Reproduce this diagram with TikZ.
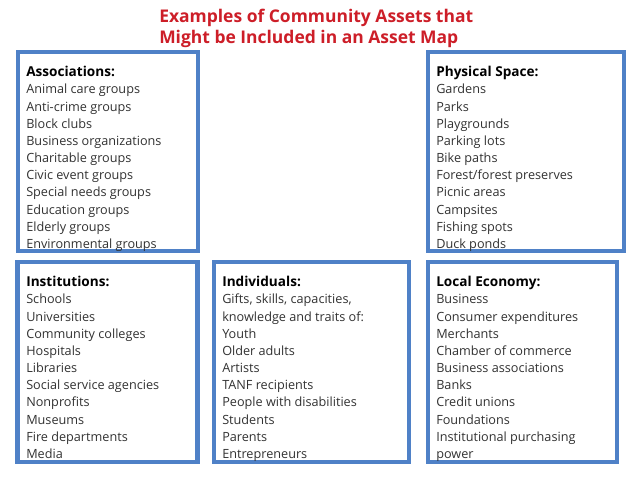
\documentclass[tikz,border=0pt]{standalone}
\usepackage{fontspec}
\setmainfont{Open Sans}
\definecolor{boxblue}{RGB}{79,129,199}
\definecolor{titlered}{RGB}{205,30,40}
\definecolor{ink}{RGB}{50,50,50}
\newcommand{\assethead}[1]{{\fontsize{10.2pt}{12.87pt}\selectfont\bfseries\color{black}#1}}
\tikzset{
  assetbox/.style={draw=boxblue,line width=3.4pt,anchor=north west,inner sep=0pt,outer sep=0pt},
  listtext/.style={anchor=north west,inner sep=0pt,align=left,text=ink,font=\fontsize{9.5pt}{12.87pt}\selectfont},
  titletext/.style={anchor=north west,inner sep=0pt,align=left,text=titlered,font=\fontsize{13.1pt}{15.6pt}\selectfont\bfseries}
}
\begin{document}
\begin{tikzpicture}[x=0.75pt,y=-0.75pt]
\useasboundingbox (0,0) rectangle (638,478);
\fill[white] (0,0) rectangle (638,478);
\node[titletext] (title) at (159,9) {Examples of Community Assets that\\Might be Included in an Asset Map};
\node[assetbox,minimum width=135pt,minimum height=149.25pt] (assocbox) at (18,52) {};
\node[assetbox,minimum width=147pt,minimum height=149.25pt] (physbox) at (428,52) {};
\node[assetbox,minimum width=135pt,minimum height=150pt] (instbox) at (17.5,262) {};
\node[assetbox,minimum width=146.25pt,minimum height=150pt] (indivbox) at (214,262) {};
\node[assetbox,minimum width=141.75pt,minimum height=150pt] (econbox) at (428,262) {};
\node[listtext] (assoc) at (26,66.2) {\assethead{Associations:}\\Animal care groups\\Anti-crime groups\\Block clubs\\Business organizations\\Charitable groups\\Civic event groups\\Special needs groups\\Education groups\\Elderly groups\\Environmental groups};
\node[listtext] (phys) at (436,66.2) {\assethead{Physical Space:}\\Gardens\\Parks\\Playgrounds\\Parking lots\\Bike paths\\Forest/forest preserves\\Picnic areas\\Campsites\\Fishing spots\\Duck ponds};
\node[listtext] (inst) at (26,276.2) {\assethead{Institutions:}\\Schools\\Universities\\Community colleges\\Hospitals\\Libraries\\Social service agencies\\Nonprofits\\Museums\\Fire departments\\Media};
\node[listtext] (indiv) at (222,276.2) {\assethead{Individuals:}\\Gifts, skills, capacities,\\knowledge and traits of:\\Youth\\Older adults\\Artists\\TANF recipients\\People with disabilities\\Students\\Parents\\Entrepreneurs};
\node[listtext] (econ) at (436,276.2) {\assethead{Local Economy:}\\Business\\Consumer expenditures\\Merchants\\Chamber of commerce\\Business associations\\Banks\\Credit unions\\Foundations\\Institutional purchasing\\power};
\end{tikzpicture}
\end{document}
